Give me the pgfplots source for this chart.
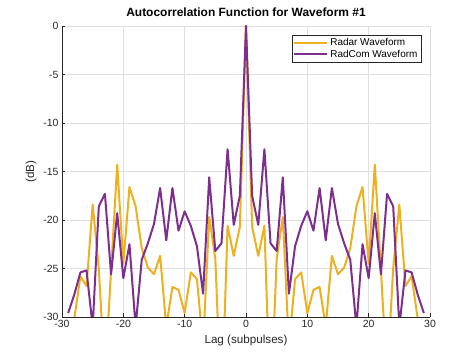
\documentclass[border=0pt]{standalone}
\usepackage{fontspec}
\setmainfont{Liberation Sans}
\usepackage{pgfplots}
\pgfplotsset{compat=1.18}
\definecolor{radar}{rgb}{0.929,0.694,0.125}
\definecolor{radcom}{rgb}{0.494,0.184,0.556}
\definecolor{axgray}{rgb}{0.15,0.15,0.15}
\definecolor{gridgray}{rgb}{0.875,0.875,0.875}
\begin{document}
\begin{tikzpicture}
\path[use as bounding box] (-62bp,-38bp) rectangle (412bp,317bp);
\begin{axis}[
  at={(0,0)}, anchor=south west,
  scale only axis, width=368bp, height=291bp,
  xmin=-30, xmax=30, ymin=-30, ymax=0,
  xtick={-30,-20,...,30}, ytick={-30,-25,...,0},
  axis x line*=bottom, axis y line*=left,
  axis line style={axgray, line width=0.6bp, -},
  tick align=inside, major tick length=3.5bp,
  tick style={axgray, line width=0.6bp},
  grid=major, major grid style={gridgray, line width=0.5bp},
  ticklabel style={font=\fontsize{10.5}{12}\selectfont, text=axgray},
  /pgf/number format/assume math mode=true,
  xlabel={Lag (subpulses)}, ylabel={(dB)},
  label style={font=\fontsize{11.7}{13}\selectfont, text=axgray},
  title={\textbf{Autocorrelation Function for Waveform \#1}},
  title style={font=\fontsize{12}{14}\selectfont, text=black},
  legend style={at={(rel axis cs:0.976,0.969)}, anchor=north east,
    draw=axgray, fill=white, line width=0.5bp,
    font=\fontsize{10}{11}\selectfont, inner sep=1.5bp, row sep=-1.5bp,
    cells={anchor=west}},
  legend image code/.code={\draw[#1] (0bp,0bp) -- (33bp,0bp);},
  every axis plot/.append style={line width=2bp, line join=round},
]
\addplot[radar] coordinates {
(-29,-36) (-28,-30.2) (-27,-25.8) (-26,-26.8) (-25,-18.4) (-24,-25.0) (-23,-36.3) (-22,-25.2) (-21,-14.3) (-20,-24.5)
(-19,-16.6) (-18,-18.6) (-17,-22.9) (-16,-24.9) (-15,-25.6) (-14,-23.7) (-13,-31) (-12,-26.9) (-11,-27.2) (-10,-29.6)
(-9,-25.4) (-8,-26.1) (-7,-33) (-6,-19.7) (-5,-24) (-4,-40) (-3,-20.6) (-2,-23.7) (-1,-20.7) (0,0)
(1,-20.7) (2,-23.7) (3,-20.6) (4,-40) (5,-24) (6,-19.7) (7,-33) (8,-26.1) (9,-25.4) (10,-29.6)
(11,-27.2) (12,-26.9) (13,-31) (14,-23.7) (15,-25.6) (16,-24.9) (17,-22.9) (18,-18.6) (19,-16.6) (20,-24.5)
(21,-14.3) (22,-25.2) (23,-36.3) (24,-25.0) (25,-18.4) (26,-26.8) (27,-25.8) (28,-30.2) (29,-36)
};
\addlegendentry{Radar Waveform}
\addplot[radcom] coordinates {
(-29,-29.6) (-28,-27.7) (-27,-25.4) (-26,-25.2) (-25,-31) (-24,-18.6) (-23,-17.3) (-22,-25.6) (-21,-19.3) (-20,-26.0)
(-19,-22.5) (-18,-31) (-17,-24.1) (-16,-22.4) (-15,-20.4) (-14,-16.7) (-13,-22.1) (-12,-16.7) (-11,-21.1) (-10,-19.1)
(-9,-20.6) (-8,-22.7) (-7,-27.6) (-6,-15.6) (-5,-23.2) (-4,-22.4) (-3,-12.7) (-2,-20.5) (-1,-17.5) (0,0)
(1,-17.5) (2,-20.5) (3,-12.7) (4,-22.4) (5,-23.2) (6,-15.6) (7,-27.6) (8,-22.7) (9,-20.6) (10,-19.1)
(11,-21.1) (12,-16.7) (13,-22.1) (14,-16.7) (15,-20.4) (16,-22.4) (17,-24.1) (18,-31) (19,-22.5) (20,-26.0)
(21,-19.3) (22,-25.6) (23,-17.3) (24,-18.6) (25,-31) (26,-25.2) (27,-25.4) (28,-27.7) (29,-29.6)
};
\addlegendentry{RadCom Waveform}
\end{axis}
\end{tikzpicture}
\end{document}
